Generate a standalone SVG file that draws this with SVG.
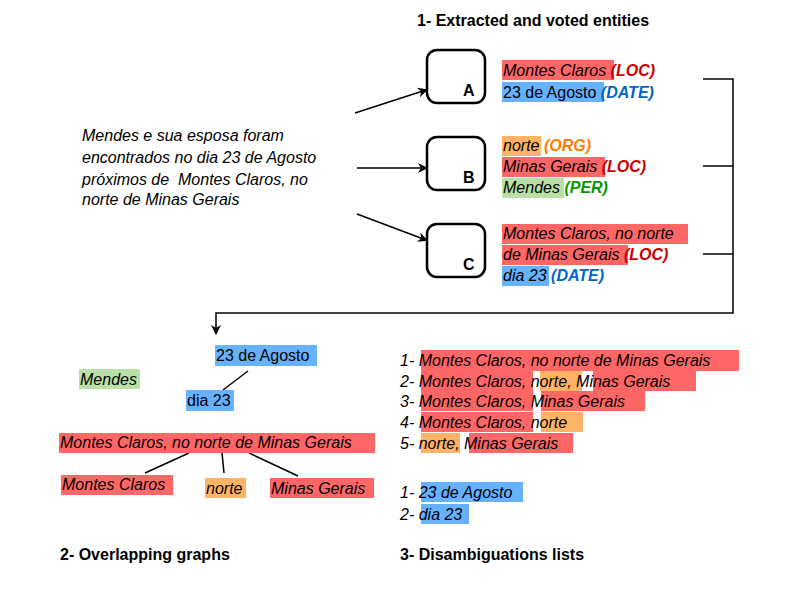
<svg xmlns="http://www.w3.org/2000/svg" width="797" height="614" viewBox="0 0 797 614">
<style>
text{font-family:"Liberation Sans",Arial,sans-serif;font-size:16px;fill:#000}
.i{font-style:italic}.b{font-weight:bold}
.r{fill:#FF6666}.bl{fill:#66B2FF}.o{fill:#FFB366}.g{fill:#B9E0A5}
.loc{fill:#CC0000;font-weight:bold;font-style:italic}.dt{fill:#0066CC;font-weight:bold;font-style:italic}
.org{fill:#FF8000;font-weight:bold;font-style:italic}.per{fill:#009900;font-weight:bold;font-style:italic}
.box{fill:#fff;stroke:#000;stroke-width:2.5}
.ln{stroke:#000;stroke-width:1.5;fill:none}
</style>
<defs><marker id="ah" markerWidth="10" markerHeight="10" refX="8" refY="5" orient="auto" markerUnits="userSpaceOnUse"><path d="M0,0 L10,5 L0,10 L3,5 Z" fill="#000"/></marker></defs>
<text class="b" x="417" y="26">1- Extracted and voted entities</text>
<g id="sentence"><text class="i" x="82" y="141">Mendes e sua esposa foram</text><text class="i" x="82" y="163">encontrados no dia 23 de Agosto</text><text class="i" x="82" y="185" xml:space="preserve">próximos de  Montes Claros, no</text><text class="i" x="82" y="205">norte de Minas Gerais</text></g>
<g id="A"><rect class="box" x="427" y="50" width="58" height="53" rx="10"/><text class="b" x="463" y="96">A</text></g>
<g id="B"><rect class="box" x="427" y="137" width="58" height="53" rx="10"/><text class="b" x="463" y="183">B</text></g>
<g id="C"><rect class="box" x="427" y="224" width="58" height="53" rx="10"/><text class="b" x="463" y="270">C</text></g>
<g id="entA"><rect class="r" x="502" y="60" width="112" height="20"/><text class="i" x="503" y="76">Montes Claros <tspan class="loc">(LOC)</tspan></text>
<rect class="bl" x="502" y="82" width="102" height="20"/><text x="503" y="98">23 de Agosto <tspan class="dt">(DATE)</tspan></text></g>
<g id="entB"><rect class="o" x="502" y="136" width="39" height="20"/><text class="i" x="503" y="151">norte <tspan class="org">(ORG)</tspan></text>
<rect class="r" x="502" y="157" width="103" height="20"/><text class="i" x="503" y="172">Minas Gerais <tspan class="loc">(LOC)</tspan></text>
<rect class="g" x="502" y="178" width="62" height="20"/><text class="i" x="503" y="193">Mendes <tspan class="per">(PER)</tspan></text></g>
<g id="entC"><rect class="r" x="502" y="224" width="186" height="20"/><text class="i" x="503" y="239">Montes Claros, no norte</text>
<rect class="r" x="502" y="245" width="126" height="20"/><text class="i" x="503" y="260">de Minas Gerais <tspan class="loc">(LOC)</tspan></text>
<rect class="bl" x="502" y="266" width="47" height="20"/><text class="i" x="503" y="281">dia 23 <tspan class="dt">(DATE)</tspan></text></g>
<g id="connectors">
<line class="ln" x1="355" y1="113" x2="426" y2="90" marker-end="url(#ah)"/>
<line class="ln" x1="357" y1="168" x2="426" y2="168" marker-end="url(#ah)"/>
<line class="ln" x1="357" y1="214" x2="426" y2="240" marker-end="url(#ah)"/>
<path class="ln" d="M703,79 H733 V313 H216 V333" marker-end="url(#ah)"/>
<line class="ln" x1="703" y1="166" x2="733" y2="166"/>
<line class="ln" x1="703" y1="254" x2="733" y2="254"/>
<line class="ln" x1="248" y1="371" x2="223" y2="390" stroke-width="1"/>
<line class="ln" x1="189" y1="453" x2="145" y2="473" stroke-width="1"/>
<line class="ln" x1="222" y1="453" x2="224" y2="473" stroke-width="1"/>
<line class="ln" x1="249" y1="453" x2="298" y2="476" stroke-width="1"/>
</g>
<g id="g-agosto"><rect class="bl" x="215" y="345" width="102" height="21"/><text x="216" y="361">23 de Agosto</text></g>
<g id="g-mendes"><rect class="g" x="79" y="369" width="61" height="20"/><text class="i" x="80" y="385">Mendes</text></g>
<g id="g-dia"><rect class="bl" x="186" y="390" width="48" height="21"/><text x="187" y="406">dia 23</text></g>
<g id="g-full"><rect class="r" x="59" y="433" width="316" height="20"/><text class="i" x="60" y="448">Montes Claros, no norte de Minas Gerais</text></g>
<g id="g-mc"><rect class="r" x="61" y="475" width="112" height="20"/><text class="i" x="62" y="490">Montes Claros</text></g>
<g id="g-norte"><rect class="o" x="205" y="478" width="41" height="20"/><text class="i" x="206" y="494">norte</text></g>
<g id="g-mg"><rect class="r" x="270" y="478" width="104" height="20"/><text class="i" x="271" y="494">Minas Gerais</text></g>
<g id="lists">
<rect class="r" x="421" y="350" width="318" height="21"/>
<rect class="r" x="421" y="371" width="112" height="20"/><rect class="o" x="540" y="371" width="42" height="20"/><rect class="r" x="593" y="371" width="103" height="20"/>
<rect class="r" x="421" y="391" width="112" height="20"/><rect class="r" x="541" y="391" width="104" height="20"/>
<rect class="r" x="421" y="412" width="112" height="20"/><rect class="o" x="541" y="412" width="42" height="20"/>
<rect class="r" x="421" y="433" width="3" height="20"/><rect class="o" x="421" y="433" width="39" height="20"/><rect class="r" x="469" y="433" width="104" height="20"/>
<rect class="bl" x="421" y="482" width="102" height="20"/><rect class="bl" x="421" y="504" width="48" height="20"/>
<text class="i" x="400" y="366">1- Montes Claros, no norte de Minas Gerais</text>
<text class="i" x="400" y="387">2- Montes Claros, norte, Minas Gerais</text>
<text class="i" x="400" y="407">3- Montes Claros, Minas Gerais</text>
<text class="i" x="400" y="428">4- Montes Claros, norte</text>
<text class="i" x="400" y="449">5- norte, Minas Gerais</text>
<text class="i" x="400" y="498">1- 23 de Agosto</text>
<text class="i" x="400" y="520">2- dia 23</text>
</g>
<text class="b" x="60" y="560">2- Overlapping graphs</text>
<text class="b" x="400" y="560">3- Disambiguations lists</text>
</svg>
